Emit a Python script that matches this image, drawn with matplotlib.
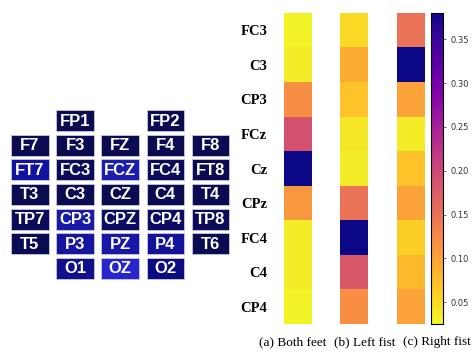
import numpy as np
import matplotlib
matplotlib.use("Agg")
import matplotlib.pyplot as plt
from matplotlib.patches import Rectangle

# electrode montage (None = empty slot)
grid_labels = [
    [None, "FP1", None, "FP2", None],
    ["F7", "F3", "FZ", "F4", "F8"],
    ["FT7", "FC3", "FCZ", "FC4", "FT8"],
    ["T3", "C3", "CZ", "C4", "T4"],
    ["TP7", "CP3", "CPZ", "CP4", "TP8"],
    ["T5", "P3", "PZ", "P4", "T6"],
    [None, "O1", "OZ", "O2", None],
]
# box fill colour for each electrode
box_colors = {
    "FP1": "#0b0b52", "FP2": "#0b0b52",
    "F7": "#0b0b52", "F3": "#0b0b52", "FZ": "#0b0b52", "F4": "#0b0b52", "F8": "#0b0b52",
    "FT7": "#1212a2", "FC3": "#0b0b5a", "FCZ": "#1c1cb0", "FC4": "#0b0b5a", "FT8": "#0b0b52",
    "T3": "#0b0b52", "C3": "#0b0b52", "CZ": "#0b0b52", "C4": "#0b0b52", "T4": "#0b0b52",
    "TP7": "#0b0b5a", "CP3": "#1a1aa8", "CPZ": "#0b0b62", "CP4": "#0b0b62", "TP8": "#0b0b5a",
    "T5": "#0b0b52", "P3": "#1515a0", "PZ": "#1818a8", "P4": "#12129a", "T6": "#0b0b52",
    "O1": "#10108a", "OZ": "#2626cc", "O2": "#0c0c80",
}

# heatmap data
channels = ["FC3", "C3", "CP3", "FCz", "Cz", "CPz", "FC4", "C4", "CP4"]
both_feet = [0.030, 0.035, 0.120, 0.190, 0.380, 0.110, 0.035, 0.035, 0.030]
left_fist = [0.050, 0.090, 0.070, 0.040, 0.035, 0.150, 0.380, 0.180, 0.120]
right_fist = [0.150, 0.380, 0.100, 0.035, 0.070, 0.100, 0.060, 0.080, 0.100]
panels = ["(a) Both feet", "(b) Left fist", "(c) Right fist"]
cbar_ticks = [0.05, 0.10, 0.15, 0.20, 0.25, 0.30, 0.35]

fig = plt.figure(figsize=(4.74, 3.53), dpi=100)

# --- electrode grid ---
axg = fig.add_axes([0.0156, 0.2045, 0.476, 0.489])
axg.set_xlim(-0.5, 4.5)
axg.set_ylim(6.5, -0.5)
axg.axis("off")
for r, row in enumerate(grid_labels):
    for c, lab in enumerate(row):
        if lab is None:
            continue
        axg.add_patch(Rectangle((c - 0.415, r - 0.43), 0.83, 0.86,
                                facecolor=box_colors[lab], edgecolor="#c8c8dc", lw=0.6))
        axg.text(c, r + 0.02, lab, ha="center", va="center", color="white",
                 fontsize=12, fontweight="bold",
                 family=["Liberation Sans Narrow", "Liberation Sans", "DejaVu Sans"])

# --- heatmaps ---
vmin, vmax = 0.025, 0.38
cmap = plt.get_cmap("plasma_r")
lefts = [0.599, 0.717, 0.838]
label_x = [0.617, 0.770, 0.922]
for i, (vals, left) in enumerate(zip([both_feet, left_fist, right_fist], lefts)):
    ax = fig.add_axes([left, 0.082, 0.059, 0.881])
    im = ax.imshow(np.array(vals).reshape(-1, 1), cmap=cmap, vmin=vmin, vmax=vmax,
                   aspect="auto")
    ax.set_xticks([])
    if i == 0:
        ax.set_yticks(range(len(channels)))
        ax.set_yticklabels(channels, family="Liberation Serif", fontsize=10.5,
                           fontweight="bold")
        ax.tick_params(axis="y", length=0, pad=12)
    else:
        ax.set_yticks([])
    for s in ax.spines.values():
        s.set_visible(False)
    fig.text(label_x[i], 0.031, panels[i], ha="center", va="center",
             family="Liberation Serif", fontsize=9.5)

cax = fig.add_axes([0.909, 0.082, 0.025, 0.881])
cb = fig.colorbar(im, cax=cax, ticks=cbar_ticks)
cb.ax.tick_params(labelsize=6, length=2, width=0.5, colors="#333333")
cb.ax.set_yticklabels([f"{t:.2f}" for t in cbar_ticks])
cb.outline.set_linewidth(0.8)

fig.savefig("out.png", dpi=100)
